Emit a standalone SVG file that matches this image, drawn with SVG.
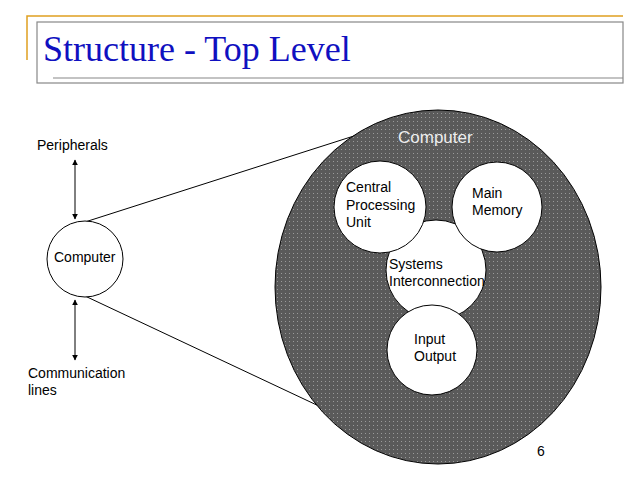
<svg xmlns="http://www.w3.org/2000/svg" width="638" height="478" viewBox="0 0 638 478">
<style>
.t{font-family:"Liberation Sans",Arial,sans-serif;font-size:14px;fill:#000}
.c{fill:#fff;stroke:#000;stroke-width:1}
.l{stroke:#000;stroke-width:1;fill:none}
</style>
<defs>
<pattern id="dots" width="4" height="4" patternUnits="userSpaceOnUse">
<rect width="4" height="4" fill="#5a5a5a"/>
<rect x="1" y="1" width="1" height="1" fill="#9a9a9a"/>
</pattern>
<marker id="ah" viewBox="0 0 10 10" refX="9" refY="5" markerWidth="6" markerHeight="6" orient="auto-start-reverse"><path d="M0,0L10,5L0,10z" fill="#000"/></marker>
</defs>
<rect width="638" height="478" fill="#fff"/>
<g id="title">
<path d="M27,60V16H623" stroke="#e0a020" stroke-width="1.5" fill="none"/>
<rect x="37" y="22" width="586" height="61" fill="none" stroke="#888" stroke-width="1.2"/>
<line x1="53" y1="78" x2="623" y2="78" stroke="#888" stroke-width="1.2"/>
<text x="43" y="61" font-family="Liberation Serif,serif" font-size="36" fill="#1010c0">Structure - Top Level</text>
</g>
<g id="connectors">
<line class="l" x1="75" y1="160" x2="75" y2="219" marker-start="url(#ah)" marker-end="url(#ah)"/>
<line class="l" x1="75" y1="300" x2="75" y2="360" marker-start="url(#ah)" marker-end="url(#ah)"/>
<line class="l" x1="85" y1="222" x2="432" y2="111"/>
<line class="l" x1="85" y1="296" x2="440" y2="463"/>
</g>
<g id="peripherals"><text class="t" x="37" y="150">Peripherals</text></g>
<g id="comm"><text class="t" x="28" y="378">Communication</text><text class="t" x="28" y="395">lines</text></g>
<g id="computer-small"><circle class="c" cx="85" cy="259" r="38"/><text class="t" x="54" y="262">Computer</text></g>
<g id="computer-big">
<ellipse cx="438" cy="287" rx="163" ry="177" fill="url(#dots)" stroke="#000"/>
<text x="398" y="143" font-family="Liberation Sans,Arial,sans-serif" font-size="17" fill="#eee">Computer</text>
</g>
<g id="systems"><circle class="c" cx="436" cy="270" r="50"/><text class="t" x="389" y="269">Systems</text><text class="t" x="389" y="286">Interconnection</text></g>
<g id="cpu"><circle class="c" cx="380" cy="207" r="46"/><text class="t" x="346" y="192">Central</text><text class="t" x="346" y="210">Processing</text><text class="t" x="346" y="227">Unit</text></g>
<g id="memory"><circle class="c" cx="497" cy="207" r="45"/><text class="t" x="472" y="198">Main</text><text class="t" x="472" y="215">Memory</text></g>
<g id="io"><circle class="c" cx="432" cy="350" r="45"/><text class="t" x="414" y="344">Input</text><text class="t" x="414" y="361">Output</text></g>
<g id="page"><text class="t" x="537" y="456">6</text></g>
</svg>
